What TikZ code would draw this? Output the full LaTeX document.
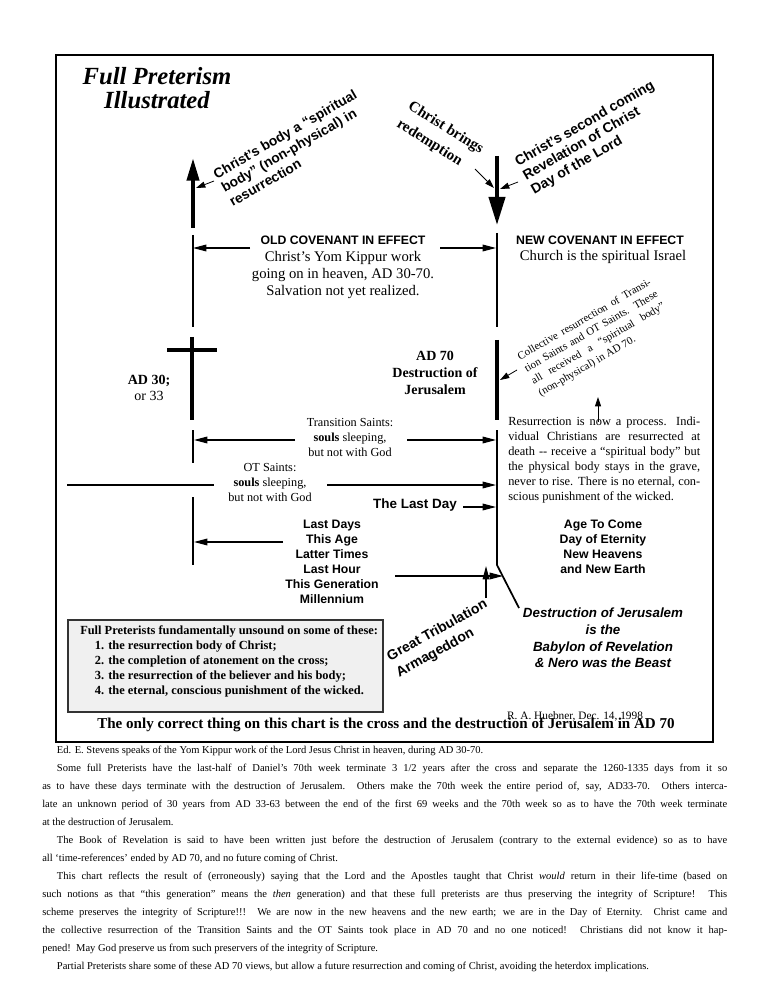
\documentclass[tikz,border=0pt]{standalone}
\usepackage{fontspec}
\setmainfont{Liberation Serif}
\setsansfont{Liberation Sans}
\usetikzlibrary{arrows.meta}
\definecolor{ink}{HTML}{000000}
\definecolor{boxgray}{HTML}{F0F0F0}

\begin{document}
\begin{tikzpicture}[x=0.75pt, y=-0.75pt,
  thinline/.style={ink, line width=1pt},
  thickline/.style={ink, line width=3pt},
  arr/.style={ink, line width=0.9pt, -{Triangle[length=10pt,width=5pt]}},
  pointer/.style={ink, line width=0.6pt, -{Triangle[length=7pt,width=4.5pt]}},
  sanslbl/.style={font=\fontsize{9.2}{11.25}\selectfont\sffamily\bfseries, align=center, inner sep=0pt},
  seriflbl/.style={font=\fontsize{9.2}{11.25}\selectfont, align=center, inner sep=0pt}]
  \useasboundingbox (0,0) rectangle (768,994);

  % Frame
  \draw[ink, line width=1.5pt] (56,55) rectangle (713,742);

  % Title
  \node[font=\fontsize{18.5}{18}\selectfont\bfseries\itshape, align=center, inner sep=0pt]
    (title) at (157,88) {Full Preterism\\Illustrated};

  % Left line: resurrection arrow, cross
  \coordinate (lArrTip) at (193,158);
  \coordinate (lArrBase) at (193,228);
  \draw[thickline, -{Triangle[length=17pt,width=9pt]}] (lArrBase) -- (lArrTip);
  \coordinate (lThinA) at (193,235);
  \coordinate (lThinB) at (193,327);
  \draw[thinline] (lThinA) -- (lThinB);
  \coordinate (crossTop) at (192,337);
  \coordinate (crossFoot) at (192,420);
  \coordinate (barL) at (167,350);
  \coordinate (barR) at (217,350);
  \draw[thickline] (crossTop) -- (crossFoot);
  \draw[thickline] (barL) -- (barR);
  \coordinate (lThinC) at (193,430);
  \coordinate (lThinD) at (193,463);
  \draw[thinline] (lThinC) -- (lThinD);
  \coordinate (lThinE) at (193,497);
  \coordinate (lThinF) at (193,565);
  \draw[thinline] (lThinE) -- (lThinF);

  % Right line: second coming, AD 70, bend
  \coordinate (rArrBase) at (497,156);
  \coordinate (rArrTip) at (497,225);
  \draw[thickline, -{Triangle[length=21pt,width=12pt]}] (rArrBase) -- (rArrTip);
  \coordinate (rThinA) at (497,233);
  \coordinate (rThinB) at (497,327);
  \draw[thinline] (rThinA) -- (rThinB);
  \coordinate (rThickA) at (497,340);
  \coordinate (rThickB) at (497,420);
  \draw[thickline] (rThickA) -- (rThickB);
  \coordinate (rLowA) at (497,430);
  \coordinate (rBend) at (497,565);
  \coordinate (rEnd) at (519,608);
  \draw[ink, line width=1.3pt] (rLowA) -- (rBend) -- (rEnd);

  % Rotated labels at the top
  \node[rotate=30, font=\fontsize{10.3}{12}\selectfont\sffamily\bfseries, align=left, inner sep=0pt]
    (bodyLbl) at (293,148) {Christ's body a “spiritual\\body” (non-physical) in\\resurrection};
  \coordinate (bodyFrom) at (214,181);
  \coordinate (bodyHit) at (196,188);
  \draw[pointer] (bodyFrom) -- (bodyHit);

  \node[rotate=-32, font=\fontsize{11.3}{16}\selectfont\bfseries, align=left, inner sep=0pt]
    (redeemLbl) at (440,137) {Christ brings\\redemption};
  \node[rotate=30, font=\fontsize{10.5}{12}\selectfont\sffamily\bfseries, align=left, inner sep=0pt]
    (comingLbl) at (593,138) {Christ's second coming\\Revelation of Christ\\Day of the Lord};
  \coordinate (redeemFrom) at (475,169);
  \coordinate (redeemHit) at (494,188);
  \coordinate (comingFrom) at (518,182);
  \coordinate (comingHit) at (500,189);
  \draw[pointer] (redeemFrom) -- (redeemHit);
  \draw[pointer] (comingFrom) -- (comingHit);

  % Old and new covenant
  \node[sanslbl] (oldHead) at (343,240) {OLD COVENANT IN EFFECT};
  \node[font=\fontsize{11}{13.1}\selectfont, align=center, inner sep=0pt]
    (oldText) at (343,275) {Christ's Yom Kippur work\\going on in heaven, AD 30-70.\\Salvation not yet realized.};
  \coordinate (oldL) at (193,248);
  \coordinate (oldLfrom) at (250,248);
  \coordinate (oldRfrom) at (440,248);
  \coordinate (oldR) at (496,248);
  \draw[arr] (oldLfrom) -- (oldL);
  \draw[arr] (oldRfrom) -- (oldR);
  \node[sanslbl] (newHead) at (600,240) {NEW COVENANT IN EFFECT};
  \node[font=\fontsize{11}{13.1}\selectfont, inner sep=0pt]
    (newText) at (603,257) {Church is the spiritual Israel};

  % AD 30 and AD 70
  \node[font=\fontsize{10.5}{11.5}\selectfont, align=center, inner sep=0pt]
    (ad30) at (149,388) {\textbf{AD 30;}\\or 33};
  \node[font=\fontsize{10.5}{12.75}\selectfont\bfseries, align=center, inner sep=0pt]
    (ad70) at (435,373) {AD 70\\Destruction of\\Jerusalem};

  % Collective resurrection
  \node[rotate=30, text width=114pt, align=justify, inner sep=0pt,
    font=\fontsize{8.2}{10.4}\selectfont]
    (collLbl) at (595,338) {\hyphenpenalty=10000\relax
      Collective resurrection of Transi-\linebreak
      tion Saints and OT Saints. These\linebreak
      all received a “spiritual body”\linebreak
      (non-physical) in AD 70.};
  \coordinate (collFrom) at (517,370);
  \coordinate (collHit) at (500,380);
  \draw[pointer] (collFrom) -- (collHit);

  % Resurrection is now a process
  \coordinate (procFrom) at (598,422);
  \coordinate (procTip) at (598,397);
  \draw[pointer] (procFrom) -- (procTip);
  \node[anchor=north west, text width=144pt, align=justify, inner sep=0pt,
    font=\fontsize{9.3}{11.25}\selectfont]
    (procText) at (508,417) {\hyphenpenalty=10000\relax
      Resurrection is now a process. Indi-\linebreak
      vidual Christians are resurrected at\linebreak
      death {-}{-} receive a “spiritual body” but\linebreak
      the physical body stays in the grave,\linebreak
      never to rise. There is no eternal, con-\linebreak
      scious punishment of the wicked.};

  % Transition Saints and OT Saints
  \node[seriflbl] (transLbl) at (350,437) {Transition Saints:\\\textbf{souls} sleeping,\\but not with God};
  \coordinate (transL) at (194,440);
  \coordinate (transLfrom) at (295,440);
  \coordinate (transRfrom) at (407,440);
  \coordinate (transR) at (496,440);
  \draw[arr] (transLfrom) -- (transL);
  \draw[arr] (transRfrom) -- (transR);

  \node[seriflbl] (otLbl) at (270,482) {OT Saints:\\\textbf{souls} sleeping,\\but not with God};
  \coordinate (otFar) at (67,485);
  \coordinate (otGap) at (214,485);
  \coordinate (otRfrom) at (327,485);
  \coordinate (otR) at (496,485);
  \draw[thinline] (otFar) -- (otGap);
  \draw[arr] (otRfrom) -- (otR);

  % The Last Day
  \node[font=\fontsize{10.1}{12}\selectfont\sffamily\bfseries, inner sep=0pt] (lastDay) at (415,505) {The Last Day};
  \coordinate (lastDayFrom) at (463,507);
  \coordinate (lastDayHit) at (496,507);
  \draw[arr] (lastDayFrom) -- (lastDayHit);

  % Last days block
  \node[sanslbl] (lastDays) at (332,562) {Last Days\\This Age\\Latter Times\\Last Hour\\This Generation\\Millennium};
  \coordinate (ldL) at (194,542);
  \coordinate (ldLfrom) at (283,542);
  \draw[arr] (ldLfrom) -- (ldL);
  \coordinate (lhFrom) at (395,576);
  \coordinate (lhHit) at (503,576);
  \draw[arr] (lhFrom) -- (lhHit);

  % Age to come
  \node[sanslbl] (ageCome) at (603,547) {Age To Come\\Day of Eternity\\New Heavens\\and New Earth};

  % Great Tribulation
  \node[rotate=29, font=\fontsize{10.5}{14}\selectfont\sffamily\bfseries, align=left, inner sep=0pt]
    (tribLbl) at (442,639) {Great Tribulation\\Armageddon};
  \coordinate (tribFrom) at (486,598);
  \coordinate (tribTip) at (486,566);
  \draw[arr] (tribFrom) -- (tribTip);

  % Babylon
  \node[font=\fontsize{10}{12.4}\selectfont\sffamily\bfseries\itshape, align=center, inner sep=0pt]
    (babylon) at (603,638) {Destruction of Jerusalem\\is the\\Babylon of Revelation\\\& Nero was the Beast};

  % Unsound box
  \draw[ink!80, line width=1.2pt, fill=boxgray] (68,620) rectangle (383,712);
  \node[anchor=north west, align=left, inner sep=0pt,
    font=\fontsize{9.3}{11.25}\selectfont\bfseries]
    (unsound) at (80,625) {Full Preterists fundamentally unsound on some of these:\\
      \hspace*{11pt}1. the resurrection body of Christ;\\
      \hspace*{11pt}2. the completion of atonement on the cross;\\
      \hspace*{11pt}3. the resurrection of the believer and his body;\\
      \hspace*{11pt}4. the eternal, conscious punishment of the wicked.};

  % Signature and verdict
  \node[font=\fontsize{8.5}{10}\selectfont, inner sep=0pt] (sign) at (575,716) {R. A. Huebner, Dec. 14, 1998};
  \node[font=\fontsize{11.3}{13}\selectfont\bfseries, inner sep=0pt] (verdict) at (386,725)
    {The only correct thing on this chart is the cross and the destruction of Jerusalem in AD 70};

  % Notes below the chart
  \node[anchor=north west, text width=513.75pt, align=justify, inner sep=0pt,
    font=\fontsize{7.9}{13.5}\selectfont]
    (notes) at (42,746) {\hyphenpenalty=10000\relax
    \hspace*{11pt}Ed. E. Stevens speaks of the Yom Kippur work of the Lord Jesus Christ in heaven, during AD 30-70.\par
    \hspace*{11pt}Some full Preterists have the last-half of Daniel's 70th week terminate 3 1/2 years after the cross and separate the 1260-1335 days from it so\linebreak
    as to have these days terminate with the destruction of Jerusalem. Others make the 70th week the entire period of, say, AD33-70. Others interca-\linebreak
    late an unknown period of 30 years from AD 33-63 between the end of the first 69 weeks and the 70th week so as to have the 70th week terminate\linebreak
    at the destruction of Jerusalem.\par
    \hspace*{11pt}The Book of Revelation is said to have been written just before the destruction of Jerusalem (contrary to the external evidence) so as to have\linebreak
    all ‘time-references’ ended by AD 70, and no future coming of Christ.\par
    \hspace*{11pt}This chart reflects the result of (erroneously) saying that the Lord and the Apostles taught that Christ \textit{would} return in their life-time (based on\linebreak
    such notions as that “this generation” means the \textit{then} generation) and that these full preterists are thus preserving the integrity of Scripture! This\linebreak
    scheme preserves the integrity of Scripture!!! We are now in the new heavens and the new earth; we are in the Day of Eternity. Christ came and\linebreak
    the collective resurrection of the Transition Saints and the OT Saints took place in AD 70 and no one noticed! Christians did not know it hap-\linebreak
    pened!\ \ May God preserve us from such preservers of the integrity of Scripture.\par
    \hspace*{11pt}Partial Preterists share some of these AD 70 views, but allow a future resurrection and coming of Christ, avoiding the heterdox implications.};
\end{tikzpicture}
\end{document}
